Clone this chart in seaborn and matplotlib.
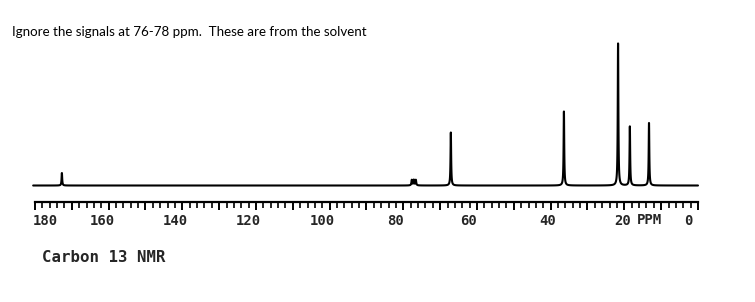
import numpy as np
import pandas as pd
import matplotlib
matplotlib.use("Agg")
import matplotlib.pyplot as plt
import matplotlib.transforms as mtrans
from matplotlib.ticker import FixedLocator, FixedFormatter
import seaborn as sns

# ---- data ----
peak_ppm = [172.7, 77.7, 77.15, 76.6, 67.1, 36.4, 21.7, 18.5, 13.3]
peak_height = [12.5, 5.5, 5.5, 5.5, 53.0, 74.0, 142.0, 59.0, 62.5]
peak_width = [0.1, 0.12, 0.12, 0.12, 0.1, 0.1, 0.1, 0.1, 0.1]
spectrum_start = 180.5
spectrum_end = 0.0
tick_values = [180, 170, 160, 150, 140, 130, 120, 110, 100, 90, 80, 70, 60, 50, 40, 30, 20, 10, 0]
tick_labels = ["180", "", "160", "", "140", "", "120", "", "100", "", "80", "", "60", "", "40", "", "20", "", "0"]
minor_tick_values = list(range(0, 181, 2))
note_text = "Ignore the signals at 76-78 ppm.  These are from the solvent"
caption_text = "Carbon 13 NMR"
unit_text = "PPM"
unit_ppm = 13.2

# label nudges (pixels) to mimic the printed scale
label_shift_px = {"180": 10, "160": -6, "140": -7, "120": -8, "100": -7,
                  "80": -8, "60": -8, "40": -3, "20": -2, "0": -10}

# ---- build the trace from the peak list ----
ppm = np.linspace(spectrum_start, spectrum_end, 18051)
intensity = np.zeros_like(ppm)
for p, h, g in zip(peak_ppm, peak_height, peak_width):
    intensity += h * g ** 2 / ((ppm - p) ** 2 + g ** 2)
df = pd.DataFrame({"ppm": ppm, "intensity": intensity})

sns.set_style("white")
plt.rcParams["path.simplify"] = False
W, H = 755, 302
fig = plt.figure(figsize=(W / 100, H / 100), dpi=100)
fig.patch.set_facecolor("white")
ax = fig.add_axes([20 / W, 1 - 201.5 / H, (710 - 20) / W, (201.5 - 35) / H])

sns.lineplot(data=df, x="ppm", y="intensity", ax=ax, color="black",
             linewidth=1.5, sort=False, estimator=None)

ax.set_xlim(184.07, -3.26)
ax.set_ylim(-16, 150.5)
ax.set_xlabel("")
ax.set_ylabel("")
ax.set_yticks([])
for s in ["top", "left", "right"]:
    ax.spines[s].set_visible(False)
ax.spines["bottom"].set_bounds(0, 180)
ax.spines["bottom"].set_linewidth(1.6)
ax.spines["bottom"].set_color("black")

ax.xaxis.set_major_locator(FixedLocator(tick_values))
ax.xaxis.set_major_formatter(FixedFormatter(tick_labels))
ax.xaxis.set_minor_locator(FixedLocator(minor_tick_values))
ax.tick_params(axis="x", which="major", direction="out", length=6, width=1.4,
               color="black", pad=3, bottom=True)
ax.tick_params(axis="x", which="minor", direction="out", length=4, width=1.2,
               color="black", bottom=True)
fig.canvas.draw()
for lab in ax.get_xticklabels():
    lab.set_fontfamily("DejaVu Sans Mono")
    lab.set_fontweight("bold")
    lab.set_fontsize(10)
    dx = label_shift_px.get(lab.get_text(), 0)
    lab.set_transform(lab.get_transform() + mtrans.ScaledTranslation(dx / 100, 0, fig.dpi_scale_trans))

trans = mtrans.blended_transform_factory(ax.transData, fig.transFigure)
ax.text(unit_ppm, 1 - 220 / H, unit_text, transform=trans, ha="center", va="center",
        fontfamily="DejaVu Sans Mono", fontweight="bold", fontsize=10)

fig.text(12 / W, 1 - 32 / H, note_text, ha="left", va="center",
         fontfamily="Lato", fontsize=9.6, color="black")
fig.text(42 / W, 1 - 258 / H, caption_text, ha="left", va="center",
         fontfamily="DejaVu Sans Mono", fontweight="bold", fontsize=11.3)

fig.savefig("out.png", dpi=100)
